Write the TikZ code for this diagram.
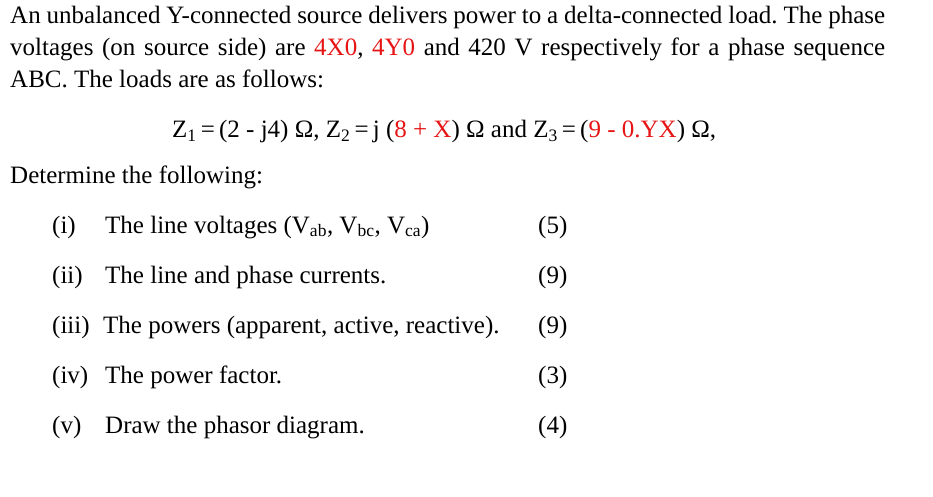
\documentclass[tikz,border=0pt]{standalone}
\usepackage{fontspec}
\setmainfont{Liberation Serif}
\definecolor{rd}{RGB}{230,20,20}
\begin{document}
\frenchspacing
\begin{tikzpicture}[x=1pt,y=-1pt,txt/.style={anchor=base west,inner sep=0pt,font=\fontsize{25}{30}\selectfont}]
\useasboundingbox (0,0) rectangle (933,497);
\node[txt] (l1) at (10,24) {\makebox[875pt][s]{An unbalanced Y-connected source delivers power to a delta-connected load. The phase}};
\node[txt] (l2) at (10,56) {\makebox[875pt][s]{voltages (on source side) are \textcolor{rd}{4X0}, \textcolor{rd}{4Y0} and 420 V respectively for a phase sequence}};
\node[txt] (l3) at (10,88) {ABC. The loads are as follows:};
\node[txt] (f) at (172,138) {Z\textsubscript{1}\,=\,(2 - j4) Ω, Z\textsubscript{2}\,=\,j (\textcolor{rd}{8 + X}) Ω and Z\textsubscript{3}\,=\,(\textcolor{rd}{9 - 0.YX}) Ω,};
\node[txt] (d) at (10,183) {Determine the following:};
\node[txt] (n1) at (52,233) {(i)};
\node[txt] (n2) at (52,283) {(ii)};
\node[txt] (n3) at (52,333) {(iii)};
\node[txt] (n4) at (52,383) {(iv)};
\node[txt] (n5) at (52,433) {(v)};
\node[txt] (i1) at (105,233) {The line voltages (V\textsubscript{ab}, V\textsubscript{bc}, V\textsubscript{ca})};
\node[txt] (i2) at (105,283) {The line and phase currents.};
\node[txt] (i3) at (103,333) {The powers (apparent, active, reactive).};
\node[txt] (i4) at (105,383) {The power factor.};
\node[txt] (i5) at (105,433) {Draw the phasor diagram.};
\node[txt] (m1) at (538,233) {(5)};
\node[txt] (m2) at (538,283) {(9)};
\node[txt] (m3) at (538,333) {(9)};
\node[txt] (m4) at (538,383) {(3)};
\node[txt] (m5) at (538,433) {(4)};
\end{tikzpicture}
\end{document}
